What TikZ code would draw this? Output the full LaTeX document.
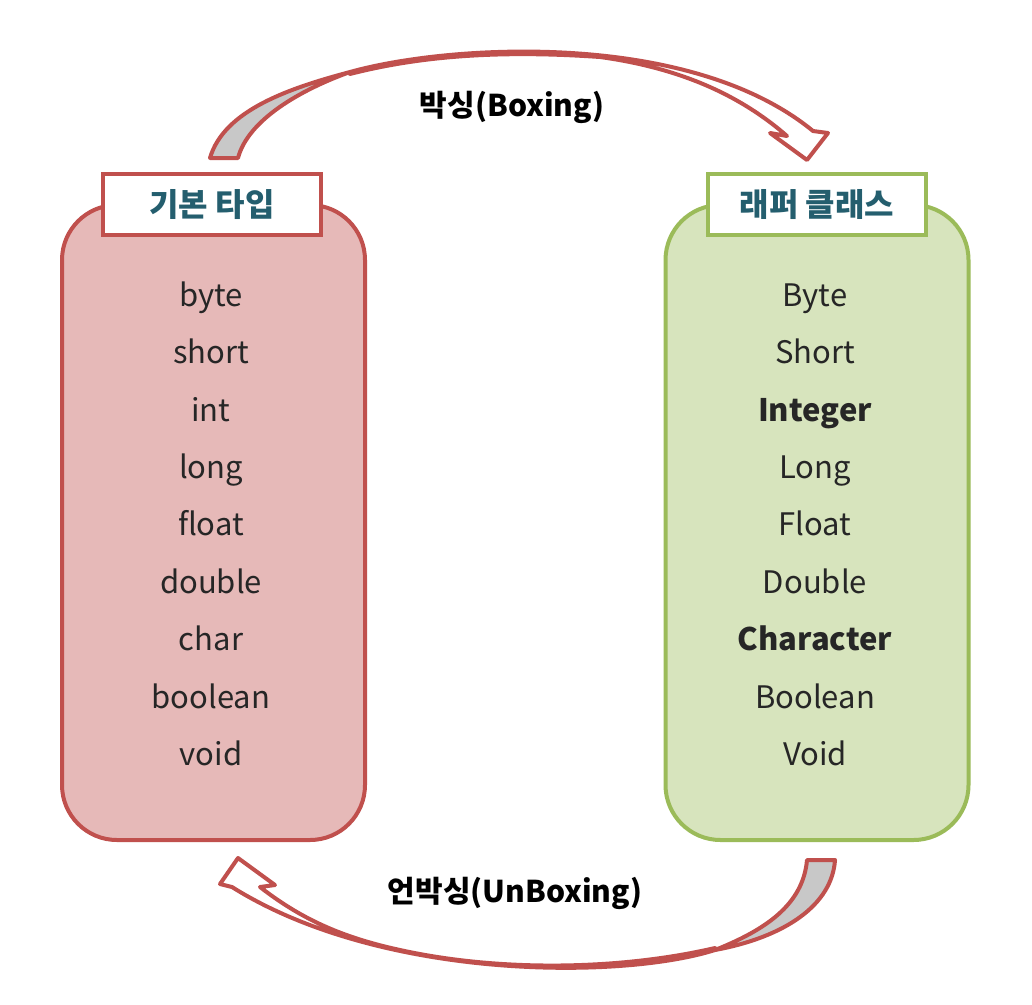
\documentclass[tikz,border=0pt]{standalone}
\usepackage{fontspec}
\setmainfont{Noto Sans CJK KR}
\definecolor{redline}{HTML}{C0504D}
\definecolor{pinkfill}{HTML}{E6B9B8}
\definecolor{greenline}{HTML}{9BBB59}
\definecolor{greenfill}{HTML}{D7E4BD}
\definecolor{titletext}{HTML}{245E6E}
\definecolor{itemtext}{HTML}{262626}
\definecolor{backgray}{HTML}{C8C8C8}
\begin{document}
\begin{tikzpicture}[x=1pt,y=-1pt,
  bigbox/.style={draw, line width=4pt, rounded corners=55pt, minimum width=303pt, minimum height=635pt, inner sep=0pt},
  titlebox/.style={draw, fill=white, line width=4pt, minimum width=218pt, minimum height=61pt, inner sep=0pt, text=titletext, font=\fontsize{32}{38}\selectfont\bfseries},
  item/.style={anchor=base, inner sep=0pt, text=itemtext, font=\fontsize{31}{36}\selectfont},
  bolditem/.style={item, font=\fontsize{31}{36}\selectfont\bfseries},
  arrowlabel/.style={anchor=base, inner sep=0pt, text=black, font=\fontsize{30}{35}\selectfont\bfseries},
  arrowline/.style={draw=redline, line width=4pt, line join=round}]
\useasboundingbox (0,0) rectangle (1032,1004);
\fill[white] (0,0) rectangle (1032,1004);

% boxes
\node[bigbox, draw=redline, fill=pinkfill] (lb) at (213.5,522.5) {};
\node[bigbox, draw=greenline, fill=greenfill] (rb) at (817,522.5) {};
\node[titlebox, draw=redline] (lt) at (212,204.5) {기본 타입};
\node[titlebox, draw=greenline] (rt) at (817,204.5) {래퍼 클래스};

% items
\node[item] (l1) at (211,306) {byte};
\node[item] (l2) at (211,363) {short};
\node[item] (l3) at (211,421) {int};
\node[item] (l4) at (211,478) {long};
\node[item] (l5) at (211,535) {float};
\node[item] (l6) at (211,593) {double};
\node[item] (l7) at (211,650) {char};
\node[item] (l8) at (211,708) {boolean};
\node[item] (l9) at (211,765) {void};

\node[item] (r1) at (815,306) {Byte};
\node[item] (r2) at (815,363) {Short};
\node[bolditem] (r3) at (815,421) {Integer};
\node[item] (r4) at (815,478) {Long};
\node[item] (r5) at (815,535) {Float};
\node[item] (r6) at (815,593) {Double};
\node[bolditem] (r7) at (815,650) {Character};
\node[item] (r8) at (815,708) {Boolean};
\node[item] (r9) at (815,765) {Void};

% top curved arrow (boxing)
\path[arrowline, fill=backgray] (210,158) .. controls (224,110) and (290,88) .. (350,72)
   .. controls (300,90) and (248,120) .. (238,158) -- cycle;
\path[arrowline, fill=white] (350,72) .. controls (450,44) and (690,30) .. (813,131)
   -- (828,133) -- (807,160) -- (770,133) -- (787,136)
   .. controls (740,95) and (680,68) .. (600,57)
   .. controls (500,50) and (420,56) .. (350,74) -- cycle;
\node[arrowlabel] (boxing) at (512,116) {박싱(Boxing)};

% bottom curved arrow (unboxing)
\path[arrowline, fill=backgray] (835,860) .. controls (832,905) and (785,937) .. (715,950)
   .. controls (765,930) and (803,905) .. (807,860) -- cycle;
\path[arrowline, fill=white] (715,950) .. controls (620,980) and (380,980) .. (232,887)
   -- (220,884) -- (238,858) -- (275,885) -- (260,887)
   .. controls (300,918) and (340,937) .. (400,950)
   .. controls (500,972) and (620,970) .. (715,948) -- cycle;
\node[arrowlabel] (unboxing) at (515,902) {언박싱(UnBoxing)};
\end{tikzpicture}
\end{document}
